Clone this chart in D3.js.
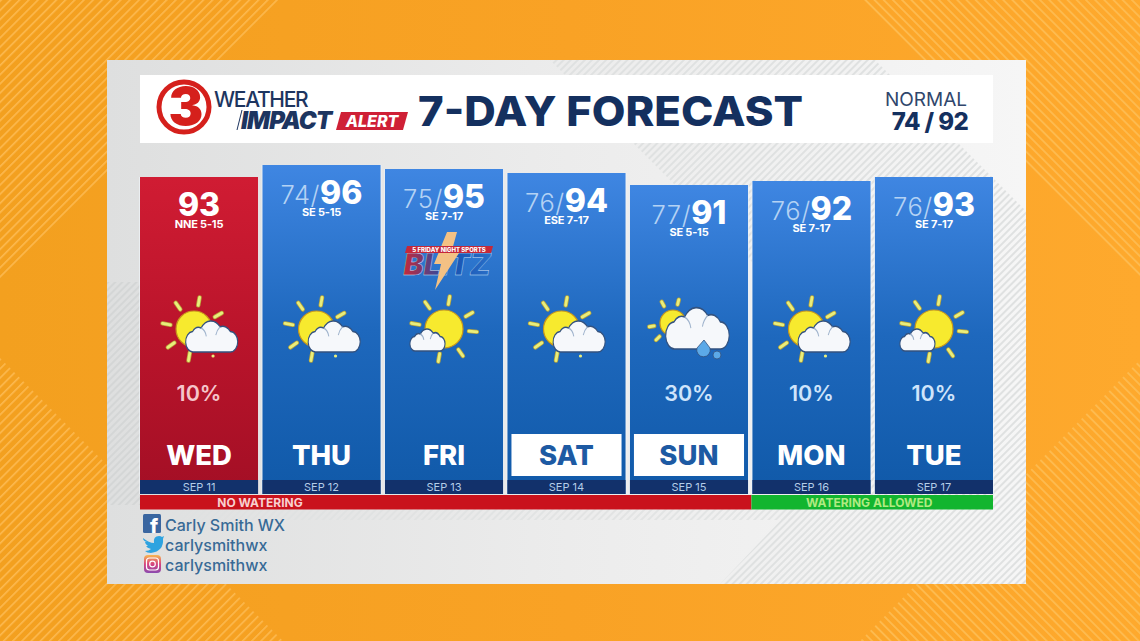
<!DOCTYPE html>
<html>
<head>
<meta charset="utf-8">
<script src="https://cdnjs.cloudflare.com/ajax/libs/d3/7.8.5/d3.min.js"></script>
<style>
  html, body { margin: 0; padding: 0; background: #f9a22b; }
  svg { display: block; }
  text { font-family: Inter, "Open Sans", sans-serif; }
</style>
</head>
<body>
<svg id="chart" width="1140" height="641"></svg>
<script>
let days = ['WED', 'THU', 'FRI', 'SAT', 'SUN', 'MON', 'TUE'];
let dates = ['SEP 11', 'SEP 12', 'SEP 13', 'SEP 14', 'SEP 15', 'SEP 16', 'SEP 17'];
let lows = [null, 74, 75, 76, 77, 76, 76];
let highs = [93, 96, 95, 94, 91, 92, 93];
let winds = ['NNE 5-15', 'SE 5-15', 'SE 7-17', 'ESE 7-17', 'SE 5-15', 'SE 7-17', 'SE 7-17'];
let rain = [10, null, null, null, 30, 10, 10];
let icons = ['partly', 'partly', 'mostly', 'partly', 'rain', 'partly', 'mostly'];
let weekend = ['SAT', 'SUN'];
let wateringLabels = ['NO WATERING', 'WATERING ALLOWED'];
let wateringSpans = [['WED', 'SUN'], ['MON', 'TUE']];
let socials = ['Carly Smith WX', 'carlysmithwx', 'carlysmithwx'];

let svg = d3.select('#chart');
let defs = svg.append('defs');

let x = d3.scaleBand().domain(days).range([140, 993]).paddingInner(0.036);
let y = d3.scaleLinear().domain([91, 96]).range([185, 165]);
let barBottom = 494;

function gradient(id, stops, horizontal) {
  let g = defs.append('linearGradient').attr('id', id)
    .attr('x1', 0).attr('x2', horizontal ? 1 : 0).attr('y1', 0).attr('y2', horizontal ? 0 : 1);
  stops.forEach((c, i) => g.append('stop').attr('offset', i / (stops.length - 1)).attr('stop-color', c));
}
gradient('blue', ['#3f86e2', '#1e68bd', '#1059a8']);
gradient('red', ['#d01c33', '#ba142b', '#a30f25']);
gradient('orange', ['#f3a01f', '#f9a225', '#fea92d'], true);
gradient('panel', ['#dedfdf', '#ececec', '#f6f6f6'], true);
gradient('insta', ['#f7b84f', '#d8447e', '#8a4bb0']);
gradient('blitzFill', ['#c5283a', '#1550b0', '#2a6fc8'], true);

function stripes(id, color, size, w, angle) {
  let p = defs.append('pattern').attr('id', id).attr('width', size).attr('height', size)
    .attr('patternUnits', 'userSpaceOnUse').attr('patternTransform', `rotate(${angle})`);
  p.append('rect').attr('width', w).attr('height', size).attr('fill', color);
}
stripes('orangeA', '#fcb94f', 6.5, 1.6, 45);
stripes('orangeB', '#fdbb50', 6.5, 1.8, -45);
stripes('grayStripe', '#d4d6d6', 5, 2, 45);
stripes('lightStripe', '#dfe1e1', 5, 2, 45);

let facet = d3.line();

// orange backdrop
svg.append('rect').attr('width', 1140).attr('height', 641).attr('fill', 'url(#orange)');
svg.append('path').attr('d', facet([[0, 0], [280, 0], [0, 280]])).attr('fill', 'url(#orangeA)');
svg.append('path').attr('d', facet([[0, 358], [283, 641], [0, 641]])).attr('fill', 'url(#orangeA)');
svg.append('path').attr('d', facet([[860, 0], [1140, 0], [1140, 280]])).attr('fill', 'url(#orangeB)');
svg.append('path').attr('d', facet([[1140, 360], [1140, 641], [860, 641]])).attr('fill', 'url(#orangeB)');

// gray panel
svg.append('rect').attr('x', 107).attr('y', 60).attr('width', 919).attr('height', 524).attr('fill', 'url(#panel)');
svg.append('path').attr('d', facet([[550, 60], [875, 60], [1026, 211], [1026, 584], [720, 584], [800, 500], [800, 310]])).attr('fill', 'url(#lightStripe)');
svg.append('path').attr('d', facet([[107, 282], [140, 282], [140, 505], [107, 505]])).attr('fill', 'url(#grayStripe)');
svg.append('path').attr('d', facet([[140, 509], [800, 509], [790, 520], [140, 520]])).attr('fill', 'url(#lightStripe)').attr('opacity', .8);

// header
svg.append('rect').attr('x', 140).attr('y', 75).attr('width', 853).attr('height', 68).attr('fill', '#fff');

let logo = svg.append('g');
logo.append('circle').attr('cx', 184).attr('cy', 107).attr('r', 25).attr('fill', '#fff').attr('stroke', '#d5201c').attr('stroke-width', 5);
logo.append('text').text('3').attr('x', 186).attr('y', 125).attr('text-anchor', 'middle')
  .attr('font-size', 52).attr('font-weight', 900).attr('fill', '#d5201c');
logo.append('text').text('WEATHER').attr('x', 214).attr('y', 107).attr('font-size', 21).attr('font-weight', 500)
  .attr('letter-spacing', -1.3).attr('fill', '#1d3560');
logo.append('line').attr('x1', 242).attr('y1', 110).attr('x2', 237).attr('y2', 130).attr('stroke', '#1d3560').attr('stroke-width', 1);
logo.append('text').text('IMPACT').attr('x', 241).attr('y', 129).attr('font-size', 24).attr('font-weight', 900)
  .attr('font-style', 'italic').attr('letter-spacing', -.9).attr('fill', '#1d3560');
logo.append('path').attr('d', facet([[341, 112], [408, 112], [403, 130], [336, 130]])).attr('fill', '#cf2036');
logo.append('text').text('ALERT').attr('x', 372).attr('y', 127).attr('text-anchor', 'middle').attr('font-size', 16)
  .attr('font-weight', 800).attr('font-style', 'italic').attr('fill', '#fff');

svg.append('text').text('7-DAY FORECAST').attr('x', 418).attr('y', 126).attr('font-size', 41).attr('font-weight', 800)
  .attr('textLength', 385).attr('lengthAdjust', 'spacingAndGlyphs').attr('fill', '#14305f');
svg.append('text').text('NORMAL').attr('x', 926).attr('y', 106).attr('text-anchor', 'middle').attr('font-size', 19).attr('fill', '#30466c');
svg.append('text').text('74 / 92').attr('x', 930).attr('y', 130).attr('text-anchor', 'middle').attr('font-size', 24).attr('font-weight', 800)
  .attr('letter-spacing', -.6).attr('fill', '#14305f');

// day columns, height comes from the high
let col = svg.selectAll('g.day').data(days).enter().append('g').attr('class', 'day')
  .attr('transform', d => `translate(${x(d)},0)`);

let w = x.bandwidth();
let cx = w / 2;

col.append('rect')
  .attr('x', -1).attr('y', (d, i) => y(highs[i]))
  .attr('width', w + 2)
  .attr('height', (d, i) => barBottom - y(highs[i]))
  .attr('fill', '#f2f6fb').attr('opacity', .6);
col.append('rect')
  .attr('y', (d, i) => y(highs[i]))
  .attr('width', w)
  .attr('height', (d, i) => barBottom - y(highs[i]))
  .attr('fill', (d, i) => lows[i] === null ? 'url(#red)' : 'url(#blue)');
col.append('rect').attr('y', 480).attr('width', w).attr('height', 14).attr('fill', '#12316b');
col.append('text').text((d, i) => dates[i]).attr('x', cx).attr('y', 491).attr('text-anchor', 'middle')
  .attr('font-size', 11).attr('fill', '#b4cde8');

// temps
col.each(function (d, i) {
  let g = d3.select(this);
  let top = y(highs[i]);
  let t = g.append('text').attr('x', cx).attr('y', top + 39).attr('text-anchor', 'middle').attr('fill', '#fff');
  if (lows[i] !== null) {
    t.append('tspan').text(lows[i] + '/').attr('font-size', 25.5).attr('font-weight', 300).attr('letter-spacing', .6).attr('fill', '#b4d2f4');
  }
  t.append('tspan').text(highs[i]).attr('font-size', 32).attr('font-weight', 800);
  g.append('text').text(winds[i]).attr('x', cx).attr('y', top + 51).attr('text-anchor', 'middle')
    .attr('font-size', 11).attr('font-weight', 700).attr('letter-spacing', -.2).attr('fill', '#fff');
});

// rain chance
col.append('text').text((d, i) => rain[i] === null ? '' : rain[i] + '%').attr('x', cx).attr('y', 401).attr('text-anchor', 'middle')
  .attr('font-size', 21.5).attr('font-weight', 600).attr('fill', (d, i) => lows[i] === null ? '#f5c5cb' : '#cfe4fb');

// day name
col.filter(d => weekend.includes(d)).append('rect').attr('x', 4).attr('y', 434).attr('width', w - 8).attr('height', 42).attr('fill', '#fff');
col.append('text').text(d => d).attr('x', cx).attr('y', 465).attr('text-anchor', 'middle')
  .attr('font-size', 27.5).attr('font-weight', 800).attr('fill', d => weekend.includes(d) ? '#1d5aa3' : '#fff');

// weather icons, local coords around (0,0) = column centre at y 329
function ray(g, sx, sy, a, r0, r1) {
  let rad = a * Math.PI / 180;
  let pts = [[sx + Math.cos(rad) * r0, sy + Math.sin(rad) * r0], [sx + Math.cos(rad) * r1, sy + Math.sin(rad) * r1]];
  g.append('path').attr('d', facet(pts)).attr('stroke', '#b9a53a').attr('stroke-width', 4.4).attr('stroke-linecap', 'round');
  g.append('path').attr('d', facet(pts)).attr('stroke', '#e9ee7c').attr('stroke-width', 2.8).attr('stroke-linecap', 'round');
}
function sun(g, sx, sy, r, angles, len) {
  angles.forEach(a => ray(g, sx, sy, a, r + 6, r + 6 + len));
  g.append('circle').attr('cx', sx).attr('cy', sy).attr('r', r).attr('fill', '#f7ea2e').attr('stroke', '#c9981c').attr('stroke-width', 1.2);
}
function cloud(g, cx0, base, kx, ky) {
  let c = g.append('g').attr('transform', `translate(${cx0},${base}) scale(${kx},${ky})`);
  c.append('path')
    .attr('d', 'M-17,0 A8.5,8.5 0 0 1 -18,-17 A9,9 0 0 1 -8,-20 A14,14 0 0 1 14,-21 A11,11 0 0 1 26,-17 A8.5,8.5 0 0 1 26,0 Z')
    .attr('fill', '#f6f8fb').attr('stroke', '#33527f').attr('stroke-width', 1.1 / kx);
  c.append('path').attr('d', 'M-8,-20 Q-3,-18 -2,-13 M14,-21 Q10,-18 9,-14').attr('fill', 'none').attr('stroke', '#9fb3cc').attr('stroke-width', 1 / kx);
}
function drawIcon(g, kind) {
  if (kind === 'partly') {
    sun(g, -5, 0, 18, [-80, -125, -30, 190, 145, 100], 8);
    g.append('circle').attr('cx', 14).attr('cy', 27).attr('r', 1.6).attr('fill', '#e9ee7c');
    cloud(g, 9, 23, .86, 1.2);
  } else if (kind === 'mostly') {
    sun(g, 0, 0, 19, [-80, -125, -30, 5, 55, 100, 190], 8);
    cloud(g, -19, 22, .58, .85);
  } else {
    sun(g, -16, -6, 13, [-76, -118, 171, 135], 5);
    cloud(g, 4, 20, 1.05, 1.6);
    g.append('path').attr('d', 'M15,11 L21,19 A6.8,6.8 0 1 1 8,19 Z').attr('fill', '#5ba9e8').attr('stroke', '#33527f').attr('stroke-width', .8);
    g.append('circle').attr('cx', 28).attr('cy', 26).attr('r', 4).attr('fill', '#5ba9e8').attr('stroke', '#33527f').attr('stroke-width', .8);
  }
}
col.each(function (d, i) {
  let g = d3.select(this).append('g').attr('transform', `translate(${cx},329)`);
  drawIcon(g, icons[i]);
});

// friday night blitz badge
let blitz = svg.append('g').attr('transform', `translate(${x('FRI') + cx},0)`);
blitz.append('text').text('BLITZ').attr('x', 3).attr('y', 275).attr('text-anchor', 'middle').attr('font-size', 30)
  .attr('font-weight', 900).attr('font-style', 'italic').attr('fill', 'url(#blitzFill)')
  .attr('stroke', '#cfe2f7').attr('stroke-width', .4);
blitz.append('path').attr('d', facet([[3, 232], [13, 232], [8, 250], [17, 250], [-9, 290], [-3, 264], [-10, 264]])).attr('fill', '#f3c184');
blitz.append('path').attr('d', facet([[-37, 246], [49, 246], [47, 253], [-39, 253]])).attr('fill', '#c5283a');
blitz.append('text').text('5 FRIDAY NIGHT SPORTS').attr('y', 252).attr('x', 5).attr('text-anchor', 'middle').attr('font-size', 6)
  .attr('font-weight', 800).attr('fill', '#fff');

// watering bar
let wateringColors = ['#c9121c', '#12b52f'];
let wateringText = ['#f8d0d0', '#b0ea82'];
wateringSpans.forEach((s, i) => {
  let x0 = i === 0 ? x(s[0]) : x(s[0]) - 1;
  let x1 = x(s[1]) + w;
  if (i === 0) x1 = x(wateringSpans[1][0]) - 1;
  svg.append('rect').attr('x', x0).attr('y', 495).attr('width', x1 - x0).attr('height', 14.5).attr('fill', wateringColors[i]);
  svg.append('text').text(wateringLabels[i]).attr('y', 507).attr('font-size', 12).attr('font-weight', 700)
    .attr('x', i === 0 ? 260 : (x0 + x1) / 2 - 3).attr('text-anchor', 'middle').attr('fill', wateringText[i]);
});

// social
let socialY = d3.scalePoint().domain([0, 1, 2]).range([531, 571]);
svg.selectAll('text.social').data(socials).enter().append('text').attr('class', 'social')
  .text(d => d).attr('x', 165).attr('y', (d, i) => socialY(i)).attr('font-size', 16).attr('font-weight', 500).attr('fill', '#386a96');
svg.append('rect').attr('x', 143).attr('y', 514).attr('width', 18).attr('height', 19).attr('rx', 1.5).attr('fill', '#3a66a0');
svg.append('text').text('f').attr('x', 154).attr('y', 533).attr('text-anchor', 'middle').attr('font-size', 20).attr('font-weight', 800).attr('fill', '#fff');
svg.append('path')
  .attr('d', 'M143,538 Q149,543 154,543 Q153,536 159,536 Q161,536 162,537 L164,536 L163,539 Q164,551 151,553 Q147,553 145,551 Q149,551 151,549 Q147,548 146,546 L148,546 Q145,544 145,542 L147,542 Q143,541 143,538 Z')
  .attr('fill', '#2ea3e0');
svg.append('rect').attr('x', 144).attr('y', 555).attr('width', 17).attr('height', 18).attr('rx', 4).attr('fill', 'url(#insta)');
svg.append('rect').attr('x', 146.5).attr('y', 558).attr('width', 12).attr('height', 12).attr('rx', 3).attr('fill', 'none').attr('stroke', '#fff').attr('stroke-width', 1.2);
svg.append('circle').attr('cx', 152.5).attr('cy', 564).attr('r', 2.8).attr('fill', 'none').attr('stroke', '#fff').attr('stroke-width', 1.2);
</script>
</body>
</html>
